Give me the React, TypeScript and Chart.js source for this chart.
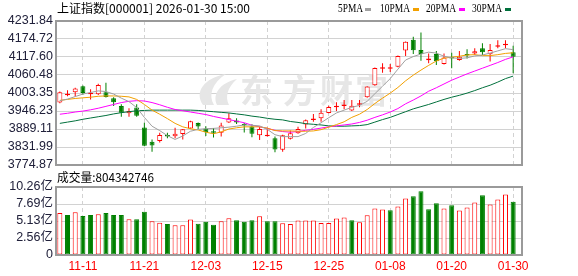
import React, { useEffect, useRef } from 'react';
import { Chart, registerables } from 'chart.js';

Chart.register(...registerables);

// ---------------- data ----------------
const DATES = [
  '11-06', '11-07', '11-10', '11-11', '11-12', '11-13', '11-14', '11-17', '11-18', '11-19',
  '11-20', '11-21', '11-24', '11-25', '11-26', '11-27', '11-28', '12-01', '12-02', '12-03',
  '12-04', '12-05', '12-08', '12-09', '12-10', '12-11', '12-12', '12-15', '12-16', '12-17',
  '12-18', '12-19', '12-22', '12-23', '12-24', '12-25', '12-26', '12-29', '12-30', '12-31',
  '01-05', '01-06', '01-07', '01-08', '01-09', '01-12', '01-13', '01-14', '01-15', '01-16',
  '01-19', '01-20', '01-21', '01-22', '01-23', '01-26', '01-27', '01-28', '01-29', '01-30',
];

const OPEN = [
  3973, 3996, 4006, 4025, 3999, 3999, 4006, 3987, 3962, 3939,
  3957, 3894, 3849, 3851, 3868, 3866, 3873, 3891, 3908, 3891,
  3882, 3877, 3910, 3916, 3903, 3897, 3869, 3866, 3860, 3823,
  3858, 3876, 3903, 3918, 3923, 3940, 3958, 3962, 3948, 3966,
  3990, 4028, 4080, 4080, 4087, 4138, 4172, 4140, 4107, 4127,
  4095, 4115, 4108, 4127, 4129, 4145, 4126, 4150, 4155, 4133,
];
const HIGH = [
  4008, 4012, 4020, 4027, 4015, 4033, 4036, 3990, 3968, 3955,
  3968, 3909, 3856, 3877, 3877, 3893, 3889, 3915, 3910, 3898,
  3892, 3909, 3939, 3923, 3908, 3904, 3896, 3893, 3865, 3871,
  3884, 3896, 3919, 3937, 3952, 3963, 3974, 3981, 3981, 3981,
  4025, 4084, 4098, 4095, 4122, 4167, 4182, 4195, 4129, 4137,
  4129, 4131, 4137, 4142, 4145, 4161, 4159, 4171, 4171, 4153,
];
const LOW = [
  3971, 3993, 3992, 3998, 3983, 3997, 3989, 3962, 3928, 3928,
  3928, 3834, 3817, 3846, 3860, 3860, 3856, 3890, 3889, 3867,
  3862, 3865, 3908, 3905, 3878, 3863, 3854, 3865, 3815, 3817,
  3856, 3874, 3891, 3912, 3912, 3939, 3946, 3952, 3946, 3958,
  3988, 4026, 4068, 4070, 4085, 4121, 4127, 4106, 4098, 4092,
  4094, 4082, 4106, 4113, 4124, 4124, 4103, 4145, 4145, 4066,
];
const CLOSE = [
  4006, 3998, 4018, 4003, 4001, 4029, 3991, 3974, 3941, 3946,
  3931, 3836, 3837, 3870, 3865, 3874, 3888, 3914, 3897, 3879,
  3877, 3900, 3923, 3910, 3900, 3874, 3889, 3868, 3824, 3869,
  3876, 3889, 3917, 3920, 3941, 3959, 3962, 3965, 3963, 3969,
  4024, 4083, 4085, 4083, 4121, 4166, 4139, 4127, 4113, 4104,
  4116, 4113, 4118, 4122, 4136, 4133, 4140, 4153, 4159, 4118,
];

const MA5 = [
  3979, 3984, 3992, 4000, 4005, 4010, 4008, 4000, 3987, 3976,
  3957, 3926, 3898, 3884, 3868, 3856, 3867, 3882, 3888, 3890,
  3891, 3893, 3895, 3898, 3902, 3901, 3899, 3888, 3871, 3865,
  3865, 3865, 3875, 3894, 3909, 3925, 3940, 3949, 3958, 3964,
  3977, 4001, 4025, 4049, 4079, 4108, 4119, 4127, 4133, 4130,
  4120, 4115, 4113, 4115, 4121, 4124, 4130, 4137, 4144, 4141,
];
const MA10 = [
  3980, 3983, 3986, 3988, 3990, 3993, 3994, 3994, 3993, 3991,
  3983, 3967, 3949, 3936, 3922, 3907, 3896, 3890, 3886, 3879,
  3874, 3880, 3889, 3893, 3896, 3896, 3896, 3892, 3884, 3883,
  3883, 3882, 3882, 3883, 3887, 3895, 3903, 3912, 3926, 3936,
  3951, 3970, 3987, 4003, 4021, 4042, 4060, 4076, 4091, 4105,
  4114, 4117, 4120, 4124, 4125, 4122, 4122, 4125, 4129, 4131,
];
const MA20 = [
  3936, 3939, 3943, 3946, 3950, 3955, 3961, 3967, 3973, 3977,
  3979, 3978, 3973, 3966, 3958, 3951, 3947, 3943, 3939, 3935,
  3929, 3924, 3919, 3914, 3909, 3901, 3896, 3891, 3885, 3881,
  3879, 3881, 3885, 3888, 3892, 3896, 3899, 3902, 3905, 3910,
  3917, 3926, 3934, 3943, 3954, 3969, 3981, 3994, 4009, 4020,
  4032, 4044, 4054, 4064, 4073, 4082, 4091, 4100, 4110, 4118,
];
const MA30 = [
  3907, 3911, 3915, 3920, 3924, 3928, 3932, 3937, 3941, 3944,
  3947, 3948, 3949, 3949, 3949, 3949, 3949, 3949, 3948, 3946,
  3944, 3942, 3940, 3937, 3934, 3930, 3927, 3923, 3920, 3918,
  3913, 3910, 3906, 3904, 3902, 3899, 3898, 3898, 3899, 3900,
  3903, 3911, 3919, 3926, 3935, 3944, 3953, 3960, 3967, 3975,
  3983, 3990, 3996, 4003, 4011, 4020, 4028, 4038, 4049, 4057,
];

// volume in 亿 (100 million)
const VOLUME = [
  6.35, 6.05, 6.46, 5.90, 6.05, 6.16, 6.35, 6.05, 6.05, 5.41,
  5.41, 6.51, 5.11, 4.86, 4.66, 4.50, 4.50, 5.36, 4.70, 5.00,
  4.56, 5.11, 5.56, 5.26, 5.00, 5.26, 5.86, 5.11, 5.11, 4.80,
  4.66, 5.21, 5.21, 5.21, 4.81, 4.81, 5.51, 5.66, 5.26, 4.96,
  6.01, 7.01, 6.86, 6.76, 7.31, 8.51, 8.86, 9.61, 6.91, 7.81,
  7.01, 7.51, 6.71, 7.16, 7.91, 9.01, 7.61, 8.36, 9.11, 8.04,
];
// 1 = red (up) volume bar, 0 = green (down) volume bar
const VOLUME_UP = [
  1, 0, 1, 0, 0, 1, 0, 0, 0, 1,
  0, 0, 1, 1, 0, 1, 1, 1, 0, 0,
  0, 1, 1, 0, 0, 0, 1, 0, 0, 1,
  1, 1, 1, 1, 1, 1, 1, 1, 0, 1,
  1, 1, 1, 0, 1, 1, 0, 0, 0, 0,
  1, 0, 1, 1, 1, 0, 1, 1, 1, 0,
];

const PRICE_TICKS = [3774.87, 3831.99, 3889.11, 3946.23, 4003.35, 4060.48, 4117.6, 4174.72, 4231.84];
const VOLUME_TICKS = [0, 2.56, 5.13, 7.69, 10.26];
const DATE_TICKS = ['11-11', '11-21', '12-03', '12-15', '12-25', '01-08', '01-20', '01-30'];

const TITLE = '上证指数[000001] 2026-01-30 15:00';
const VOLUME_TITLE = '成交量:804342746';
const MA_NAMES = ['5PMA', '10PMA', '20PMA', '30PMA'];
const WATERMARK = '东方财富';

// ---------------- styles ----------------
const RED = '#ff0000';
const GREEN = '#008000';
const MA_COLORS = ['#a0a0a0', '#f2a000', '#ff00ff', '#00703c'];
const GRID = '#d2d2d2';
const FRAME = '#9a9a9a';
const LABEL = '#20203a';
const SANS = '"Liberation Sans", "Noto Sans CJK SC", Arial, sans-serif';
const CJK = '"Noto Sans CJK SC", "Liberation Sans", sans-serif';

const W = 578;
const AXIS_W = 56;
const RIGHT_PAD = 56;
const X_MIN = -0.5;
const X_MAX = 60.15;

const tickIndices = DATE_TICKS.map((d) => DATES.indexOf(d));
const upCandle = (i: number) => CLOSE[i] >= OPEN[i];

function xScale(withLabels: boolean): any {
  return {
    type: 'linear',
    min: X_MIN,
    max: X_MAX,
    offset: false,
    afterBuildTicks: (s: any) => {
      s.ticks = tickIndices.map((v) => ({ value: v }));
    },
    afterFit: (s: any) => {
      s.height = withLabels ? 21 : 0;
    },
    grid: { color: GRID, drawTicks: false, offset: false, lineWidth: 1 },
    border: { display: false, dash: [4, 3] },
    ticks: withLabels
      ? {
          display: true,
          autoSkip: false,
          maxRotation: 0,
          padding: 4,
          color: RED,
          font: { family: SANS, size: 12 },
          callback: (v: any) => DATES[Math.round(Number(v))] ?? '',
        }
      : { display: false },
  };
}

const framePlugin = {
  id: 'frame',
  afterDraw(chart: any) {
    const { ctx, chartArea: a } = chart;
    ctx.save();
    ctx.strokeStyle = FRAME;
    ctx.lineWidth = 2;
    ctx.strokeRect(a.left, a.top, a.right - a.left, a.bottom - a.top);
    ctx.restore();
  },
};

const pricePlugin = {
  id: 'priceDecor',
  beforeDatasetsDraw(chart: any) {
    const { ctx } = chart;
    ctx.save();
    ctx.fillStyle = '#e6e6e6';
    // logo swoosh
    ctx.beginPath();
    ctx.moveTo(203, 105);
    ctx.bezierCurveTo(194, 92, 204, 78, 226, 74);
    ctx.bezierCurveTo(212, 83, 208, 95, 214, 105);
    ctx.closePath();
    ctx.fill();
    ctx.beginPath();
    ctx.moveTo(217, 105);
    ctx.bezierCurveTo(212, 94, 220, 83, 237, 79);
    ctx.bezierCurveTo(227, 88, 225, 97, 229, 105);
    ctx.closePath();
    ctx.fill();
    ctx.font = 'bold 33px ' + CJK;
    ctx.textBaseline = 'middle';
    const xs = [240, 283, 320, 355];
    WATERMARK.split('').forEach((ch, k) => ctx.fillText(ch, xs[k], 90));
    ctx.restore();
  },
  afterDraw(chart: any) {
    const { ctx } = chart;
    ctx.save();
    ctx.textBaseline = 'middle';
    ctx.fillStyle = '#000';
    ctx.font = '12px ' + CJK;
    ctx.fillText(TITLE, 57, 8, 197);
    const textX = [338, 380, 426, 472];
    const textW = [25, 30, 30, 30];
    const swX = [365, 413, 459, 505];
    ctx.font = '12px "Liberation Serif", "DejaVu Serif", serif';
    MA_NAMES.forEach((name, k) => {
      ctx.fillStyle = '#000';
      ctx.fillText(name, textX[k], 9, textW[k]);
      ctx.fillStyle = MA_COLORS[k];
      ctx.fillRect(swX[k], 8, 6, 3);
    });
    ctx.restore();
  },
};

const volumePlugin = {
  id: 'volumeDecor',
  afterDraw(chart: any) {
    const { ctx } = chart;
    ctx.save();
    ctx.textBaseline = 'middle';
    ctx.fillStyle = '#000';
    ctx.font = '12px ' + CJK;
    ctx.fillText(VOLUME_TITLE, 57, 11, 97);
    ctx.restore();
  },
};

function priceConfig(): any {
  const maLines = [MA5, MA10, MA20, MA30].map((arr, k) => ({
    type: 'line',
    label: MA_NAMES[k],
    data: arr.map((v, i) => ({ x: i, y: v })),
    borderColor: MA_COLORS[k],
    backgroundColor: MA_COLORS[k],
    borderWidth: 1,
    pointRadius: 0,
    tension: 0,
    fill: false,
    order: 1,
  }));
  return {
    type: 'line',
    data: {
      datasets: [
        ...maLines,
        {
          type: 'bar',
          label: 'body',
          data: DATES.map((_, i) => ({ x: i, y: [OPEN[i], CLOSE[i]] })),
          backgroundColor: DATES.map((_, i) => (upCandle(i) ? '#ffffff' : GREEN)),
          borderColor: DATES.map((_, i) => (upCandle(i) ? RED : GREEN)),
          borderWidth: 1,
          borderSkipped: false,
          barThickness: 5,
          minBarLength: 1.5,
          grouped: false,
          inflateAmount: 0,
          order: 2,
        },
        {
          type: 'bar',
          label: 'wick',
          data: DATES.map((_, i) => ({ x: i, y: [LOW[i], HIGH[i]] })),
          backgroundColor: DATES.map((_, i) => (upCandle(i) ? RED : GREEN)),
          borderWidth: 0,
          barThickness: 1,
          grouped: false,
          inflateAmount: 0,
          order: 3,
        },
      ],
    },
    options: {
      responsive: false,
      maintainAspectRatio: false,
      devicePixelRatio: 1,
      animation: false,
      events: [],
      layout: { padding: { left: 0, right: RIGHT_PAD, top: 21, bottom: 15 } },
      plugins: { legend: { display: false }, tooltip: { enabled: false }, title: { display: false } },
      scales: {
        x: xScale(false),
        y: {
          type: 'linear',
          position: 'left',
          min: PRICE_TICKS[0],
          max: PRICE_TICKS[PRICE_TICKS.length - 1],
          afterBuildTicks: (s: any) => {
            s.ticks = PRICE_TICKS.map((v) => ({ value: v }));
          },
          afterFit: (s: any) => {
            s.width = AXIS_W;
          },
          grid: { color: GRID, drawTicks: false, lineWidth: 1 },
          border: { display: false },
          ticks: {
            autoSkip: false,
            padding: 3,
            color: LABEL,
            font: { family: SANS, size: 12.5 },
            callback: (v: any) => Number(v).toFixed(2),
          },
        },
      },
    },
    plugins: [pricePlugin, framePlugin],
  };
}

function volumeConfig(): any {
  return {
    type: 'bar',
    data: {
      datasets: [
        {
          type: 'bar',
          label: '成交量',
          data: VOLUME.map((v, i) => ({ x: i, y: v })),
          backgroundColor: VOLUME_UP.map((u) => (u ? '#ffffff' : GREEN)),
          borderColor: VOLUME_UP.map((u) => (u ? RED : GREEN)),
          borderWidth: 1,
          borderSkipped: false,
          barThickness: 5,
          grouped: false,
          inflateAmount: 0,
        },
      ],
    },
    options: {
      responsive: false,
      maintainAspectRatio: false,
      devicePixelRatio: 1,
      animation: false,
      events: [],
      layout: { padding: { left: 0, right: RIGHT_PAD, top: 21, bottom: 0 } },
      plugins: { legend: { display: false }, tooltip: { enabled: false }, title: { display: false } },
      scales: {
        x: xScale(true),
        y: {
          type: 'linear',
          position: 'left',
          min: 0,
          max: VOLUME_TICKS[VOLUME_TICKS.length - 1],
          beginAtZero: true,
          afterBuildTicks: (s: any) => {
            s.ticks = VOLUME_TICKS.map((v) => ({ value: v }));
          },
          afterFit: (s: any) => {
            s.width = AXIS_W;
          },
          grid: { color: GRID, drawTicks: false, lineWidth: 1 },
          border: { display: false },
          ticks: {
            autoSkip: false,
            padding: 3,
            color: LABEL,
            font: { family: SANS, size: 12.5 },
            callback: (v: any) => (Number(v) === 0 ? '0' : Number(v).toFixed(2) + '亿'),
          },
        },
      },
    },
    plugins: [volumePlugin, framePlugin],
  };
}

export default function App() {
  const priceRef = useRef<HTMLCanvasElement>(null);
  const volRef = useRef<HTMLCanvasElement>(null);

  useEffect(() => {
    const pc = new Chart(priceRef.current as HTMLCanvasElement, priceConfig());
    const vc = new Chart(volRef.current as HTMLCanvasElement, volumeConfig());
    return () => {
      pc.destroy();
      vc.destroy();
    };
  }, []);

  return (
    <div style={{ position: 'absolute', left: 0, top: 0, width: W, height: 276, background: '#fff' }}>
      <canvas
        ref={priceRef}
        width={W}
        height={180}
        style={{ position: 'absolute', left: 0, top: 0, width: W, height: 180 }}
      />
      <canvas
        ref={volRef}
        width={W}
        height={110}
        style={{ position: 'absolute', left: 0, top: 166, width: W, height: 110 }}
      />
    </div>
  );
}
